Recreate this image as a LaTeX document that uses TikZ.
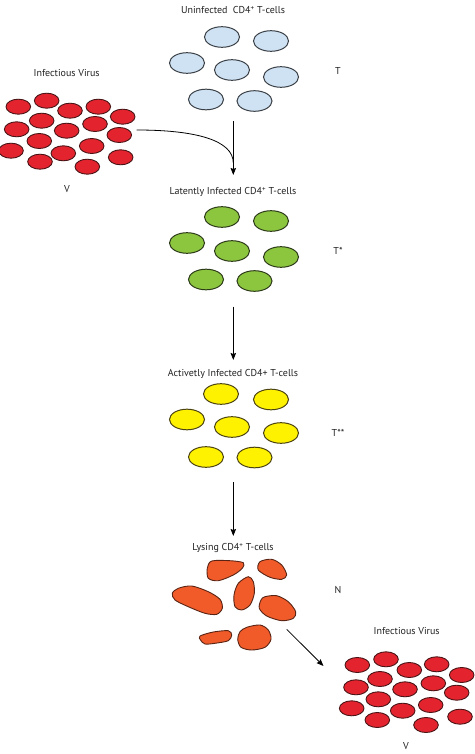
\documentclass[tikz,border=0pt]{standalone}
\usepackage{fontspec}
\setmainfont{PT Sans}
\usetikzlibrary{shapes.geometric,arrows.meta}
\definecolor{txt}{HTML}{222222}
\definecolor{blueF}{HTML}{CFE2F3}
\definecolor{blueD}{HTML}{3A3F45}
\definecolor{greenF}{HTML}{8CC63F}
\definecolor{greenD}{HTML}{2C3A18}
\definecolor{yelF}{HTML}{FFF200}
\definecolor{yelD}{HTML}{4A4210}
\definecolor{redF}{HTML}{E3242F}
\definecolor{redD}{HTML}{4A1416}
\definecolor{orF}{HTML}{F15A29}
\definecolor{orD}{HTML}{5A2414}
\tikzset{
  cell/.style={ellipse,inner sep=0pt,minimum width=35pt,minimum height=20.6pt,line width=1pt},
  cellB/.style={cell,draw=blueD,fill=blueF},
  cellG/.style={cell,draw=greenD,fill=greenF},
  cellY/.style={cell,draw=yelD,fill=yelF},
  vir/.style={ellipse,inner sep=0pt,minimum width=24.6pt,minimum height=15pt,line width=0.9pt,draw=redD,fill=redF},
  lys/.style={draw=orD,fill=orF,line width=0.9pt},
  lbl/.style={text=txt,font=\fontsize{10pt}{12pt}\selectfont,inner sep=0pt},
  conn/.style={line width=0.8pt,-{Stealth[length=7pt,width=5.5pt,inset=1pt]}},
}
\begin{document}
\begin{tikzpicture}[x=1pt,y=-1pt]
\useasboundingbox (0,0) rectangle (474,754);
\fill[white] (0,0) rectangle (474,754);

% Uninfected
\node[lbl] (tUn) at (233,10) {Uninfected\ \ CD4\textsuperscript{+} T-cells};
\node[cellB] (b1) at (222,37) {};
\node[cellB] (b2) at (271,41) {};
\node[cellB] (b3) at (187,63) {};
\node[cellB] (b4) at (232,70) {};
\node[cellB] (b5) at (281,77) {};
\node[cellB] (b6) at (206,99.5) {};
\node[cellB] (b7) at (254.5,101) {};
\node[lbl] (lT) at (338,71) {T};

% Left virus
\node[lbl] (tV1) at (66.7,73.3) {Infectious Virus};
\foreach \i/\x/\y in {1/18.3/106.7,2/46.7/100.7,3/70/110.7,4/98.3/106.7,5/122.7/116.7,
  6/41.7/120.7,7/16.7/129.3,8/66.7/130.7,9/95/124,10/119.3/135,
  11/39.3/141,12/11/150.7,13/63.3/153.3,14/91.7/146,15/40/161.7,16/87.3/166.7,17/120.7/157.3}
  \node[vir] (va\i) at (\x,\y) {};
\node[lbl] (lV1) at (67,189) {V};

% Latent
\node[lbl] (tLa) at (233,192) {Latently Infected CD4\textsuperscript{+} T-cells};
\node[cellG] (g1) at (222,217) {};
\node[cellG] (g2) at (271,221) {};
\node[cellG] (g3) at (187,243) {};
\node[cellG] (g4) at (232,251) {};
\node[cellG] (g5) at (281,257) {};
\node[cellG] (g6) at (206,279.5) {};
\node[cellG] (g7) at (254.5,281) {};
\node[lbl] (lTs) at (338,251) {T*};

% Active
\node[lbl] (tAc) at (233,374) {Activetly Infected CD4+ T-cells};
\node[cellY] (y1) at (221,394) {};
\node[cellY] (y2) at (271,399.5) {};
\node[cellY] (y3) at (187,419.5) {};
\node[cellY] (y4) at (232,427) {};
\node[cellY] (y5) at (281,433) {};
\node[cellY] (y6) at (206,457) {};
\node[cellY] (y7) at (254.5,457.5) {};
\node[lbl] (lTss) at (338,433) {T**};

% Lysing
\node[lbl] (tLy) at (233,548) {Lysing CD4\textsuperscript{+} T-cells};
\draw[lys] plot[smooth cycle] coordinates {(211.7,561) (230,560.7) (243.3,562.7) (242.3,568.3) (233.3,575) (218.3,580.7) (208.3,578.3) (207.3,568.3)};
\draw[lys] plot[smooth cycle] coordinates {(260,561.7) (271.7,559.3) (281.7,565) (286.7,575) (281.7,579.3) (270,577.3) (258.3,570)};
\draw[lys] plot[smooth cycle] coordinates {(248.3,576.7) (253.3,581.7) (254.3,593.3) (250,605) (241.7,610) (235,606.7) (234,595) (238.3,583.3)};
\draw[lys] plot[smooth cycle] coordinates {(178.3,588.3) (191.7,586) (208.3,591.7) (220,599.3) (222.3,608.3) (216.7,614.3) (205,613.3) (188.3,606.7) (175,600) (172.3,593.3)};
\draw[lys] plot[smooth cycle] coordinates {(265,596.7) (276.7,595.7) (288.3,601.7) (295.7,611.7) (293.3,618.3) (281.7,620.7) (266.7,616) (259.3,608.3) (261,600)};
\draw[lys] plot[smooth cycle] coordinates {(200,636) (213.3,632) (228.3,630.7) (231.7,635) (228.3,640.7) (215,643.3) (205,644) (200.5,640)};
\draw[lys] plot[smooth cycle] coordinates {(246.7,627.3) (260,625) (268.3,630) (271,639.3) (265,647.3) (251.7,650) (241,647.3) (237.7,639.3) (240,631.7)};
\node[lbl] (lN) at (338,590) {N};

% Bottom virus
\node[lbl] (tV2) at (406.7,630.7) {Infectious Virus};
\foreach \i/\x/\y in {1/357.3/665,2/386/659.3,3/409.3/670,4/436.7/664.3,5/461.7/675,
  6/356/687.3,7/380/679,8/405/689.3,9/433.3/683.3,10/456.7/692.7,
  11/378.3/699.3,12/351.7/708.3,13/402.7/710.7,14/430.7/705,15/377.3/720,16/426/725,17/460/716.7}
  \node[vir] (vb\i) at (\x,\y) {};
\node[lbl] (lV2) at (406,746.5) {V};

% Connectors
\coordinate (a1s) at (233.3,121.5);
\coordinate (a1e) at (233.3,175);
\coordinate (cS) at (136.7,130);
\coordinate (cM) at (233.3,163);
\coordinate (a2s) at (233.3,306.5);
\coordinate (a2e) at (233.3,360);
\coordinate (a3s) at (233.3,482);
\coordinate (a3e) at (233.3,536);
\coordinate (a4s) at (286.7,629.3);
\coordinate (a4e) at (323.5,666);
\draw[conn] (a1s) -- (a1e);
\draw[line width=0.8pt] (cS) .. controls (195,130) and (233.3,140) .. (cM);
\draw[conn] (a2s) -- (a2e);
\draw[conn] (a3s) -- (a3e);
\draw[conn] (a4s) -- (a4e);
\end{tikzpicture}
\end{document}
